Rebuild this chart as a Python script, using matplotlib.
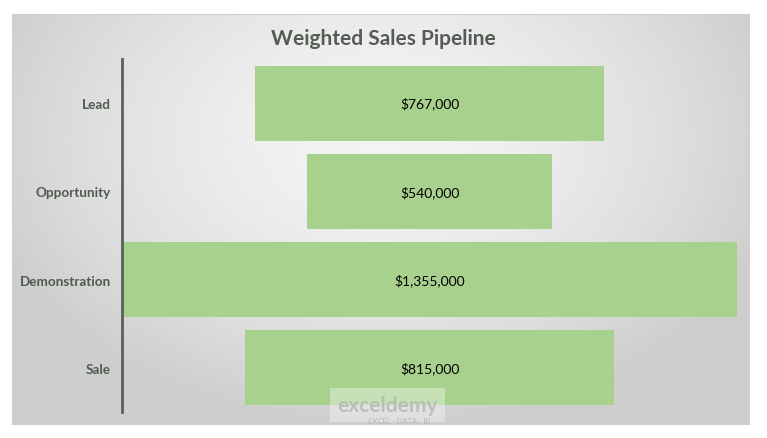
import numpy as np
import matplotlib.pyplot as plt

stages = ['Lead', 'Opportunity', 'Demonstration', 'Sale']
values = [767000, 540000, 1355000, 815000]
bar_labels = ['$767,000', '$540,000', '$1,355,000', '$815,000']

plt.rcParams['font.family'] = ['Lato', 'DejaVu Sans']

fig = plt.figure(figsize=(7.67, 4.39), dpi=100)
fig.patch.set_facecolor('white')

# chart area with radial grey gradient
bg = fig.add_axes([12 / 767, 14 / 439, 737 / 767, 410 / 439])
yy, xx = np.mgrid[0:1:300j, 0:1:500j]
r = np.sqrt(((xx - 0.5) / 0.75) ** 2 + ((yy - 0.3) / 0.95) ** 2)
r = np.clip(r / 0.75, 0, 1)
shade = 0.955 - 0.15 * r ** 1.6
bg.imshow(shade, cmap='gray', vmin=0, vmax=1, aspect='auto',
          extent=[0, 1, 0, 1], origin='upper', interpolation='bilinear')
bg.set_xticks([])
bg.set_yticks([])
for s in bg.spines.values():
    s.set_color('#d0d0d0')
    s.set_linewidth(0.8)

ax = fig.add_axes([122 / 767, 26 / 439, 615 / 767, 353 / 439])
ax.patch.set_alpha(0)

y = np.arange(len(stages))
lefts = [-v / 2 for v in values]
ax.barh(y, values, left=lefts, height=0.85, color='#a9d18e')

for i, lbl in enumerate(bar_labels):
    ax.text(0, i, lbl, ha='center', va='center', fontsize=10, color='black')

half = max(values) / 2
ax.set_xlim(-half, half)
ax.set_ylim(len(stages) - 0.5, -0.5)
ax.set_yticks(y)
ax.set_yticklabels(stages, fontsize=9.7, fontweight='bold', color='#4e5b4e')
ax.tick_params(axis='y', length=0, pad=8)
ax.set_xticks([])

for side in ['top', 'right', 'bottom']:
    ax.spines[side].set_visible(False)
ax.spines['left'].set_color('#56615a')
ax.spines['left'].set_linewidth(2)

fig.text(0.5, 0.912, 'Weighted Sales Pipeline', ha='center', va='center',
         fontsize=15, fontweight='bold', color='#545c54')

# faint watermark
fig.text(0.505, 0.075, 'exceldemy', ha='center', va='center', fontsize=15,
         color='#b5b5b5', alpha=0.8, fontweight='bold',
         bbox=dict(boxstyle='square,pad=0.35', fc='white', ec='none', alpha=0.35))
fig.text(0.52, 0.04, 'EXCEL · DATA · BI', ha='center', va='center', fontsize=5.5,
         color='#b5b5b5', alpha=0.9)

fig.savefig('out.png', dpi=100)
